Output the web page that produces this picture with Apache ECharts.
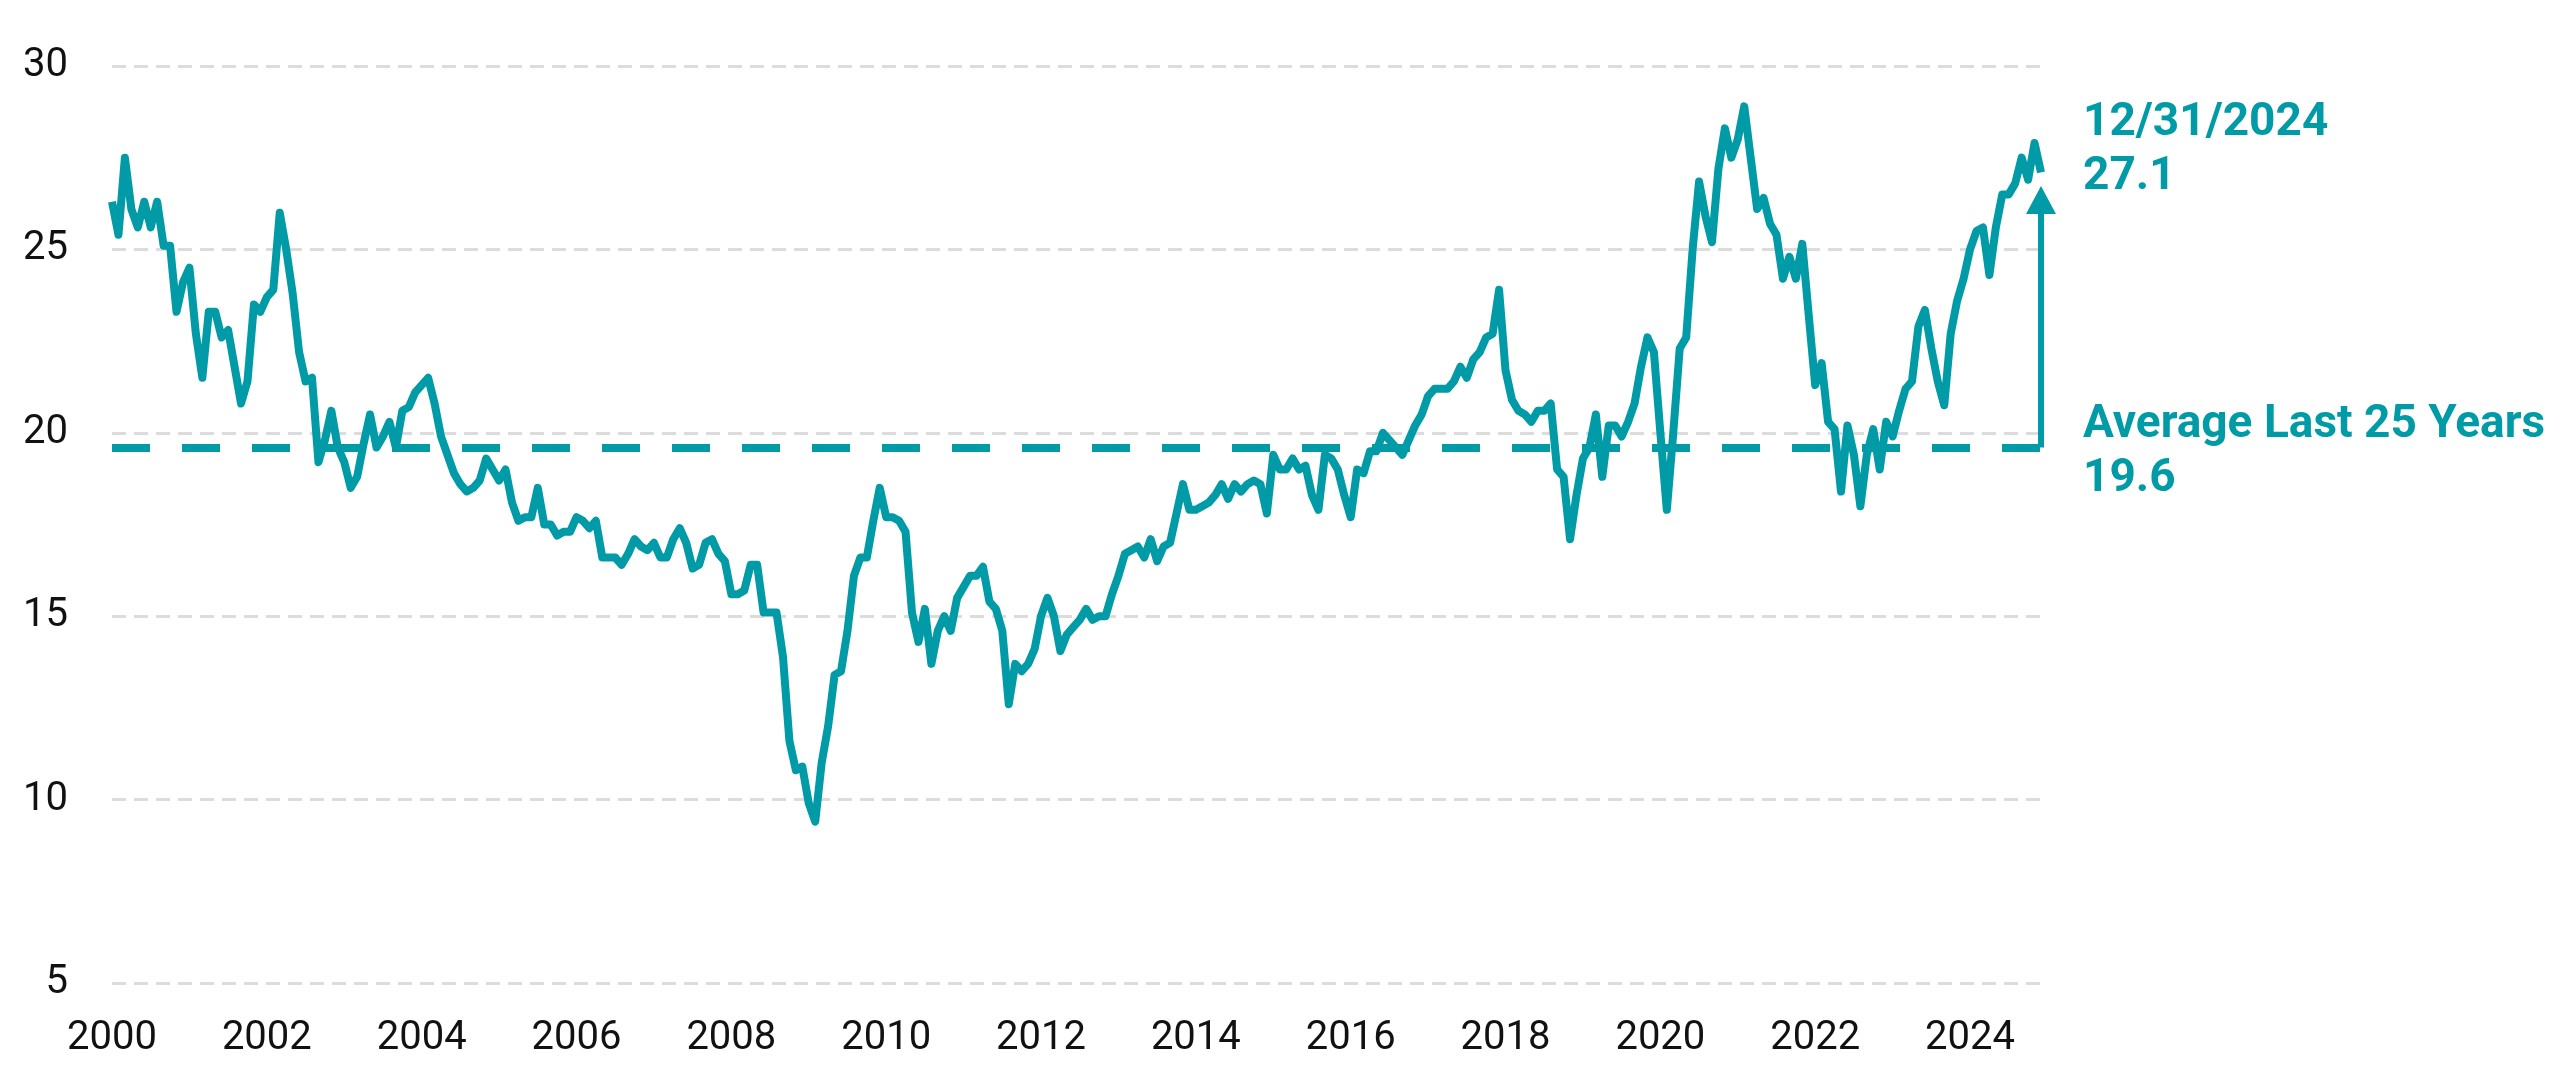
<!DOCTYPE html>
<html>
<head>
<meta charset="utf-8">
<script src="https://cdn.jsdelivr.net/npm/echarts@6/dist/echarts.min.js"></script>
<style>
  html, body { margin: 0; padding: 0; background: #fff; }
  #chart { width: 2560px; height: 1086px; }
</style>
</head>
<body>
<div id="chart"></div>
<script>
// monthly P/E, Jan 2000 - Dec 2024, one row per year
var years = [];
for (var y = 2000; y <= 2024; y++) years.push(y);

var pe2000 = [26.3, 25.4, 27.5, 26.1, 25.6, 26.3, 25.6, 26.3, 25.1, 25.1, 23.3, 24.1];
var pe2001 = [24.5, 22.7, 21.5, 23.3, 23.3, 22.6, 22.8, 21.8, 20.8, 21.4, 23.5, 23.3];
var pe2002 = [23.7, 23.9, 26.0, 25.0, 23.8, 22.2, 21.4, 21.5, 19.2, 19.8, 20.6, 19.6];
var pe2003 = [19.2, 18.5, 18.8, 19.7, 20.5, 19.6, 19.9, 20.3, 19.6, 20.6, 20.7, 21.1];
var pe2004 = [21.3, 21.5, 20.8, 19.9, 19.4, 18.9, 18.6, 18.4, 18.5, 18.7, 19.3, 19.0];
var pe2005 = [18.7, 19.0, 18.1, 17.6, 17.7, 17.7, 18.5, 17.5, 17.5, 17.2, 17.3, 17.3];
var pe2006 = [17.7, 17.6, 17.4, 17.6, 16.6, 16.6, 16.6, 16.4, 16.7, 17.1, 16.9, 16.8];
var pe2007 = [17.0, 16.6, 16.6, 17.1, 17.4, 17.0, 16.3, 16.4, 17.0, 17.1, 16.7, 16.5];
var pe2008 = [15.6, 15.6, 15.7, 16.4, 16.4, 15.1, 15.1, 15.1, 13.9, 11.6, 10.8, 10.9];
var pe2009 = [9.9, 9.4, 11.0, 12.0, 13.4, 13.5, 14.6, 16.1, 16.6, 16.6, 17.6, 18.5];
var pe2010 = [17.7, 17.7, 17.6, 17.3, 15.1, 14.3, 15.2, 13.7, 14.6, 15.0, 14.6, 15.5];
var pe2011 = [15.8, 16.1, 16.1, 16.35, 15.4, 15.2, 14.6, 12.6, 13.7, 13.5, 13.7, 14.1];
var pe2012 = [15.0, 15.5, 15.0, 14.05, 14.5, 14.7, 14.9, 15.2, 14.9, 15.0, 15.0, 15.6];
var pe2013 = [16.1, 16.7, 16.8, 16.9, 16.6, 17.1, 16.5, 16.9, 17.0, 17.8, 18.6, 17.9];
var pe2014 = [17.9, 18.0, 18.1, 18.3, 18.6, 18.2, 18.6, 18.4, 18.6, 18.7, 18.6, 17.8];
var pe2015 = [19.4, 19.0, 19.0, 19.3, 19.0, 19.1, 18.3, 17.9, 19.4, 19.3, 19.0, 18.3];
var pe2016 = [17.7, 19.0, 18.9, 19.5, 19.5, 20.0, 19.8, 19.6, 19.4, 19.8, 20.2, 20.5];
var pe2017 = [21.0, 21.2, 21.2, 21.2, 21.4, 21.8, 21.5, 22.0, 22.2, 22.6, 22.7, 23.9];
var pe2018 = [21.7, 20.9, 20.6, 20.5, 20.3, 20.6, 20.6, 20.8, 19.0, 18.8, 17.1, 18.3];
var pe2019 = [19.3, 19.6, 20.5, 18.8, 20.2, 20.2, 19.9, 20.3, 20.8, 21.8, 22.6, 22.2];
var pe2020 = [20.0, 17.9, 20.0, 22.3, 22.6, 25.0, 26.85, 25.9, 25.2, 27.2, 28.3, 27.5];
var pe2021 = [28.0, 28.9, 27.5, 26.1, 26.4, 25.7, 25.4, 24.2, 24.8, 24.2, 25.15, 23.2];
var pe2022 = [21.3, 21.9, 20.3, 20.1, 18.4, 20.2, 19.4, 18.0, 19.4, 20.1, 19.0, 20.3];
var pe2023 = [19.9, 20.6, 21.2, 21.4, 22.9, 23.35, 22.3, 21.4, 20.75, 22.7, 23.6, 24.2];
var pe2024 = [25.0, 25.5, 25.6, 24.3, 25.6, 26.5, 26.5, 26.8, 27.5, 26.9, 27.9, 27.1];

var avg25 = 19.6;
var lastValue = 27.1;
var lastDate = "12/31/2024";
var yTicks = [5, 10, 15, 20, 25, 30];

var byYear = [pe2000, pe2001, pe2002, pe2003, pe2004, pe2005, pe2006, pe2007, pe2008,
  pe2009, pe2010, pe2011, pe2012, pe2013, pe2014, pe2015, pe2016, pe2017, pe2018,
  pe2019, pe2020, pe2021, pe2022, pe2023, pe2024];

var months = [];
var values = [];
years.forEach(function (yr, i) {
  byYear[i].forEach(function (v, m) {
    months.push(yr + "-" + (m + 1));
    values.push(v);
  });
});
var lastMonth = months[months.length - 1];

var teal = "#009ba6";
var myChart = echarts.init(document.getElementById("chart"));

var option = {
  animation: false,
  grid: { left: 112, right: 519, top: 66, bottom: 103 },
  xAxis: {
    type: "category",
    data: months,
    boundaryGap: false,
    axisLine: { show: false },
    axisTick: { show: false },
    axisLabel: {
      interval: function (idx) { return idx % 24 === 0; },
      formatter: function (v) { return v.split("-")[0]; },
      fontFamily: "Roboto",
      fontSize: 40,
      color: "#111",
      margin: 36
    },
    splitLine: { show: false }
  },
  yAxis: {
    type: "value",
    min: yTicks[0],
    max: yTicks[yTicks.length - 1],
    interval: 5,
    axisLine: { show: false },
    axisTick: { show: false },
    axisLabel: { fontFamily: "Roboto", fontSize: 40, color: "#111", margin: 44 },
    splitLine: { lineStyle: { color: "#dcdcdc", width: 3, type: [14, 8] } }
  },
  series: [
    {
      type: "line",
      data: values,
      showSymbol: false,
      lineStyle: { color: teal, width: 8, join: "round" },
      z: 3,
      markLine: {
        silent: true,
        symbol: "none",
        label: { show: false },
        data: [
          [
            { coord: [months[0], avg25], lineStyle: { color: teal, width: 8, type: [38, 32] } },
            { coord: [lastMonth, avg25] }
          ],
          [
            { coord: [lastMonth, avg25], symbol: "none", lineStyle: { color: teal, width: 6, type: "solid" } },
            { coord: [lastMonth, 26.35], symbol: "triangle", symbolSize: [30, 28] }
          ]
        ]
      }
    }
  ],
  graphic: [
    {
      type: "text", left: 2083, top: 96,
      style: { text: lastDate + "\n" + lastValue.toFixed(1), fill: teal,
        font: "bold 46px Roboto", lineHeight: 54 }
    },
    {
      type: "text", left: 2083, top: 398,
      style: { text: "Average Last 25 Years\n" + avg25.toFixed(1), fill: teal,
        font: "bold 46px Roboto", lineHeight: 54 }
    }
  ]
};

myChart.setOption(option);
</script>
</body>
</html>
